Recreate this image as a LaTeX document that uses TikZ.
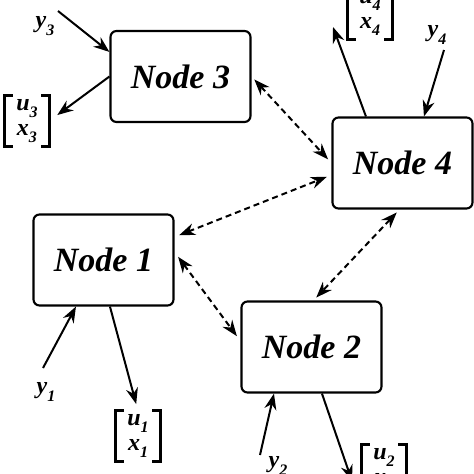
\documentclass[tikz,border=0pt]{standalone}
\usepackage{fontspec}
\setmainfont{Liberation Serif}
\usetikzlibrary{arrows.meta,calc}
\newcommand\myvar[2]{\textbf{\textit{#1}}\raisebox{-0.32em}{\fontsize{16}{16}\selectfont\textbf{\textit{#2}}}}
\begin{document}
\begin{tikzpicture}[x=1pt,y=-1pt,
 blockbox/.style={draw,line width=2.1pt,rounded corners=6pt,minimum width=140pt,minimum height=91pt,font=\fontsize{34}{34}\selectfont\bfseries\itshape,inner sep=0pt},
 varlabel/.style={font=\fontsize{24}{24}\selectfont,inner sep=0pt},
 vecnode/.style={font=\fontsize{24}{25}\selectfont,align=center,minimum width=44pt,minimum height=50pt,inner sep=0pt},
 bracketline/.style={line width=2.8pt},
 sigarrow/.style={line width=2pt,-{Stealth[length=16pt,width=12pt]}},
 linkarrow/.style={line width=2pt,dash pattern=on 6pt off 4pt,{Stealth[length=16pt,width=12pt]}-{Stealth[length=16pt,width=12pt]}},
]
\useasboundingbox (0,0) rectangle (474,474);
\clip (0,0) rectangle (474,474);

% blocks
\node[blockbox] (n3) at (180.5,76.5) {Node 3};
\node[blockbox] (n4) at (402.5,163) {Node 4};
\node[blockbox] (n1) at (103.5,260) {Node 1};
\node[blockbox] (n2) at (311.5,347) {Node 2};

% labels
\node[varlabel] (y3) at (45,26) {\myvar{y}{3}};
\node[varlabel] (y4) at (437,35) {\myvar{y}{4}};
\node[varlabel] (y1) at (46,392) {\myvar{y}{1}};
\node[varlabel] (y2) at (278,466) {\myvar{y}{2}};

% vectors
\node[vecnode] (m3) at (27,121) {\myvar{u}{3}\\\myvar{x}{3}};
\node[vecnode] (m4) at (370,14) {\myvar{u}{4}\\\myvar{x}{4}};
\node[vecnode] (m1) at (138,436) {\myvar{u}{1}\\\myvar{x}{1}};
\node[vecnode] (m2) at (384,470) {\myvar{u}{2}\\\myvar{x}{2}};
\foreach \m in {m1,m2,m3,m4}{
  \draw[bracketline] ([xshift=8pt]\m.north west) -| (\m.south west) -- ++(8,0);
  \draw[bracketline] ([xshift=-8pt]\m.north east) -| (\m.south east) -- ++(-8,0);
}

% free ends
\coordinate (s3) at (58,11);
\coordinate (s4) at (444,50);
\coordinate (s1) at (43,368);
\coordinate (s2) at (260,455);
\coordinate (o4) at (333,27);
\coordinate (o2) at (352,481);

% inputs
\draw[sigarrow] (s3) -- ($(n3.north west)+(0,22)$);
\draw[sigarrow] (s4) -- ($(n4.north west)+(92.5,0)$);
\draw[sigarrow] (s1) -- ($(n1.south west)+(43.5,0)$);
\draw[sigarrow] (s2) -- ($(n2.south west)+(33.5,0)$);

% outputs
\draw[sigarrow,shorten >=10pt] (n3.west) -- (m3.east);
\draw[sigarrow] ($(n4.north west)+(34.5,0)$) -- (o4);
\draw[sigarrow,shorten >=7pt] ($(n1.south west)+(77.5,0)$) -- (m1.north);
\draw[sigarrow] ($(n2.south west)+(81.5,0)$) -- (o2);

% links
\draw[linkarrow,shorten <=4pt,shorten >=5pt] (n3.east) -- (n4.west);
\draw[linkarrow,shorten <=5pt,shorten >=5pt] ($(n1.east)+(0,-23)$) -- ($(n4.west)+(0,12)$);
\draw[linkarrow,shorten <=6pt,shorten >=6pt] ($(n1.east)+(0,-8)$) -- ($(n2.west)+(0,-6)$);
\draw[linkarrow,shorten <=4pt,shorten >=4pt] ($(n4.south)+(-3,0)$) -- ($(n2.north)+(2,0)$);
\end{tikzpicture}
\end{document}
